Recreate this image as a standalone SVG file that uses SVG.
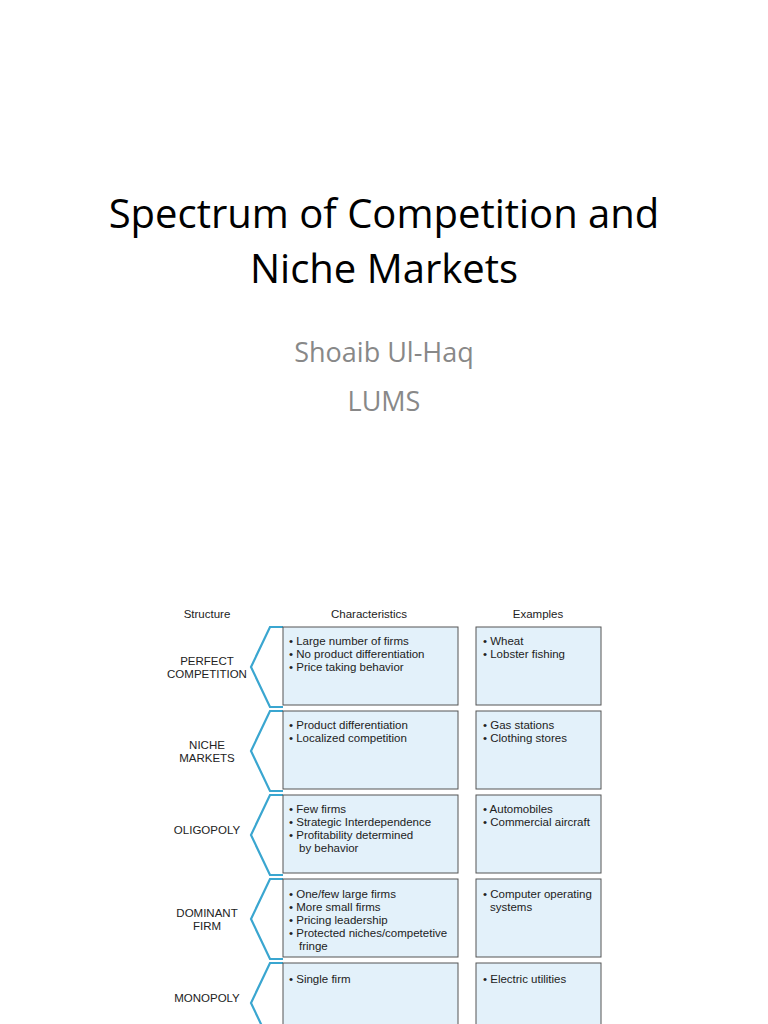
<svg xmlns="http://www.w3.org/2000/svg" width="768" height="1024" viewBox="0 0 768 1024">
<style>
.t{font-family:"Open Sans",sans-serif;font-size:40px;fill:#000;text-anchor:middle}
.s{font-family:"Open Sans",sans-serif;font-size:27px;fill:#888;text-anchor:middle}
.h{font-family:"Liberation Sans",Arial,sans-serif;font-size:11.5px;fill:#222;text-anchor:middle}
.c{font-family:"Liberation Sans",Arial,sans-serif;font-size:11.5px;fill:#222}
.box{fill:#e3f1fa;stroke:#555;stroke-width:1}
.br{fill:none;stroke:#3aa6d0;stroke-width:2.2}
</style>
<rect width="768" height="1024" fill="#fff"/>
<text class="t" x="384" y="228">Spectrum of Competition and</text>
<text class="t" x="384" y="283">Niche Markets</text>
<text class="s" x="384" y="362">Shoaib Ul-Haq</text>
<text class="s" x="384" y="411">LUMS</text>
<text class="h" x="207" y="618">Structure</text>
<text class="h" x="369" y="618">Characteristics</text>
<text class="h" x="538" y="618">Examples</text>
<g id="connectors">
<path class="br" d="M283,627 H270 L251,667 L270,707 H283"/>
<path class="br" d="M283,711 H270 L251,751 L270,791 H283"/>
<path class="br" d="M283,795 H270 L251,835 L270,875 H283"/>
<path class="br" d="M283,879 H270 L251,919 L270,959 H283"/>
<path class="br" d="M283,963 H270 L251,1003 L270,1043 H283"/>
</g>
<g id="perfect">
<text class="h" x="207" y="665">PERFECT</text><text class="h" x="207" y="678">COMPETITION</text>
<rect class="box" x="283" y="627" width="175" height="78"/>
<text class="c" x="289" y="645">• Large number of firms</text>
<text class="c" x="289" y="658">• No product differentiation</text>
<text class="c" x="289" y="671">• Price taking behavior</text>
<rect class="box" x="476" y="627" width="125" height="78"/>
<text class="c" x="483" y="645">• Wheat</text>
<text class="c" x="483" y="658">• Lobster fishing</text>
</g>
<g id="niche">
<text class="h" x="207" y="749">NICHE</text><text class="h" x="207" y="762">MARKETS</text>
<rect class="box" x="283" y="711" width="175" height="78"/>
<text class="c" x="289" y="729">• Product differentiation</text>
<text class="c" x="289" y="742">• Localized competition</text>
<rect class="box" x="476" y="711" width="125" height="78"/>
<text class="c" x="483" y="729">• Gas stations</text>
<text class="c" x="483" y="742">• Clothing stores</text>
</g>
<g id="oligopoly">
<text class="h" x="207" y="834">OLIGOPOLY</text>
<rect class="box" x="283" y="795" width="175" height="78"/>
<text class="c" x="289" y="813">• Few firms</text>
<text class="c" x="289" y="826">• Strategic Interdependence</text>
<text class="c" x="289" y="839">• Profitability determined</text>
<text class="c" x="299" y="852">by behavior</text>
<rect class="box" x="476" y="795" width="125" height="78"/>
<text class="c" x="483" y="813">• Automobiles</text>
<text class="c" x="483" y="826">• Commercial aircraft</text>
</g>
<g id="dominant">
<text class="h" x="207" y="917">DOMINANT</text><text class="h" x="207" y="930">FIRM</text>
<rect class="box" x="283" y="879" width="175" height="78"/>
<text class="c" x="289" y="898">• One/few large firms</text>
<text class="c" x="289" y="911">• More small firms</text>
<text class="c" x="289" y="924">• Pricing leadership</text>
<text class="c" x="289" y="937">• Protected niches/competetive</text>
<text class="c" x="299" y="950">fringe</text>
<rect class="box" x="476" y="879" width="125" height="78"/>
<text class="c" x="483" y="898">• Computer operating</text>
<text class="c" x="490" y="911">systems</text>
</g>
<g id="monopoly">
<text class="h" x="207" y="1002">MONOPOLY</text>
<rect class="box" x="283" y="963" width="175" height="78"/>
<text class="c" x="289" y="983">• Single firm</text>
<rect class="box" x="476" y="963" width="125" height="78"/>
<text class="c" x="483" y="983">• Electric utilities</text>
</g>
</svg>
